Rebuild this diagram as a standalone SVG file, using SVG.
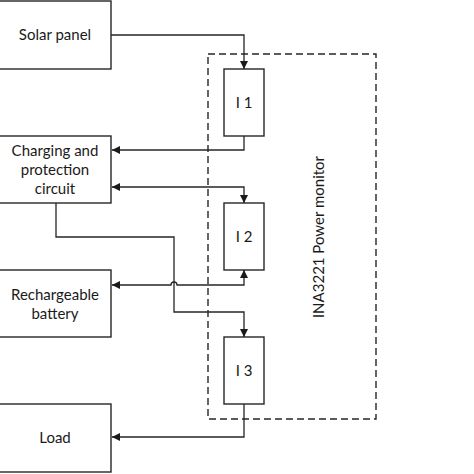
<svg xmlns="http://www.w3.org/2000/svg" width="474" height="474" viewBox="0 0 474 474">
<defs>
<style>
.box{fill:#fff;stroke:#262626;stroke-width:1.4}
.lbl{font-family:Lato,"Liberation Sans",Arial,sans-serif;font-size:15px;fill:#1a1a1a;text-anchor:middle}
.wire{fill:none;stroke:#262626;stroke-width:1.3}
.dash{fill:none;stroke:#262626;stroke-width:1.4;stroke-dasharray:7,4}
</style>
<marker id="ah" viewBox="0 0 10 10" refX="10" refY="5" markerWidth="8" markerHeight="8" markerUnits="userSpaceOnUse" orient="auto-start-reverse">
<path d="M0,0 L10,5 L0,10 z" fill="#1a1a1a"/>
</marker>
</defs>
<rect width="474" height="474" fill="#fff"/>
<g id="monitor">
<rect class="dash" x="208" y="54" width="168" height="365"/>
<text class="lbl" transform="translate(324,237) rotate(-90)" font-size="14.8">INA3221 Power monitor</text>
</g>
<g id="solar"><rect class="box" x="-2" y="1" width="113" height="68"/><text class="lbl" x="55" y="40">Solar panel</text></g>
<g id="charging"><rect class="box" x="-2" y="136" width="113" height="67"/><text class="lbl" x="55" y="156">Charging and</text><text class="lbl" x="55" y="175">protection</text><text class="lbl" x="55" y="194">circuit</text></g>
<g id="battery"><rect class="box" x="-2" y="270" width="113" height="67"/><text class="lbl" x="55" y="300">Rechargeable</text><text class="lbl" x="55" y="319">battery</text></g>
<g id="load"><rect class="box" x="-2" y="404" width="113" height="68"/><text class="lbl" x="55" y="443">Load</text></g>
<g id="i1"><rect class="box" x="224" y="69" width="40" height="67"/><text class="lbl" x="244" y="108">I 1</text></g>
<g id="i2"><rect class="box" x="224" y="203" width="40" height="67"/><text class="lbl" x="244" y="242">I 2</text></g>
<g id="i3"><rect class="box" x="224" y="337" width="40" height="67"/><text class="lbl" x="244" y="376">I 3</text></g>
<g id="connectors">
<path class="wire" d="M111,35 H244 V69" marker-end="url(#ah)"/>
<path class="wire" d="M244,136 V150 H112" marker-end="url(#ah)"/>
<path class="wire" d="M112,187 H244 V203" marker-start="url(#ah)" marker-end="url(#ah)"/>
<path class="wire" d="M112,285 H171 A3,3 0 0 1 177,285 H244 V270" marker-start="url(#ah)" marker-end="url(#ah)"/>
<path class="wire" d="M56,203 V237 H174 V312 H244 V337" marker-end="url(#ah)"/>
<path class="wire" d="M244,404 V437 H112" marker-end="url(#ah)"/>
</g>
</svg>
